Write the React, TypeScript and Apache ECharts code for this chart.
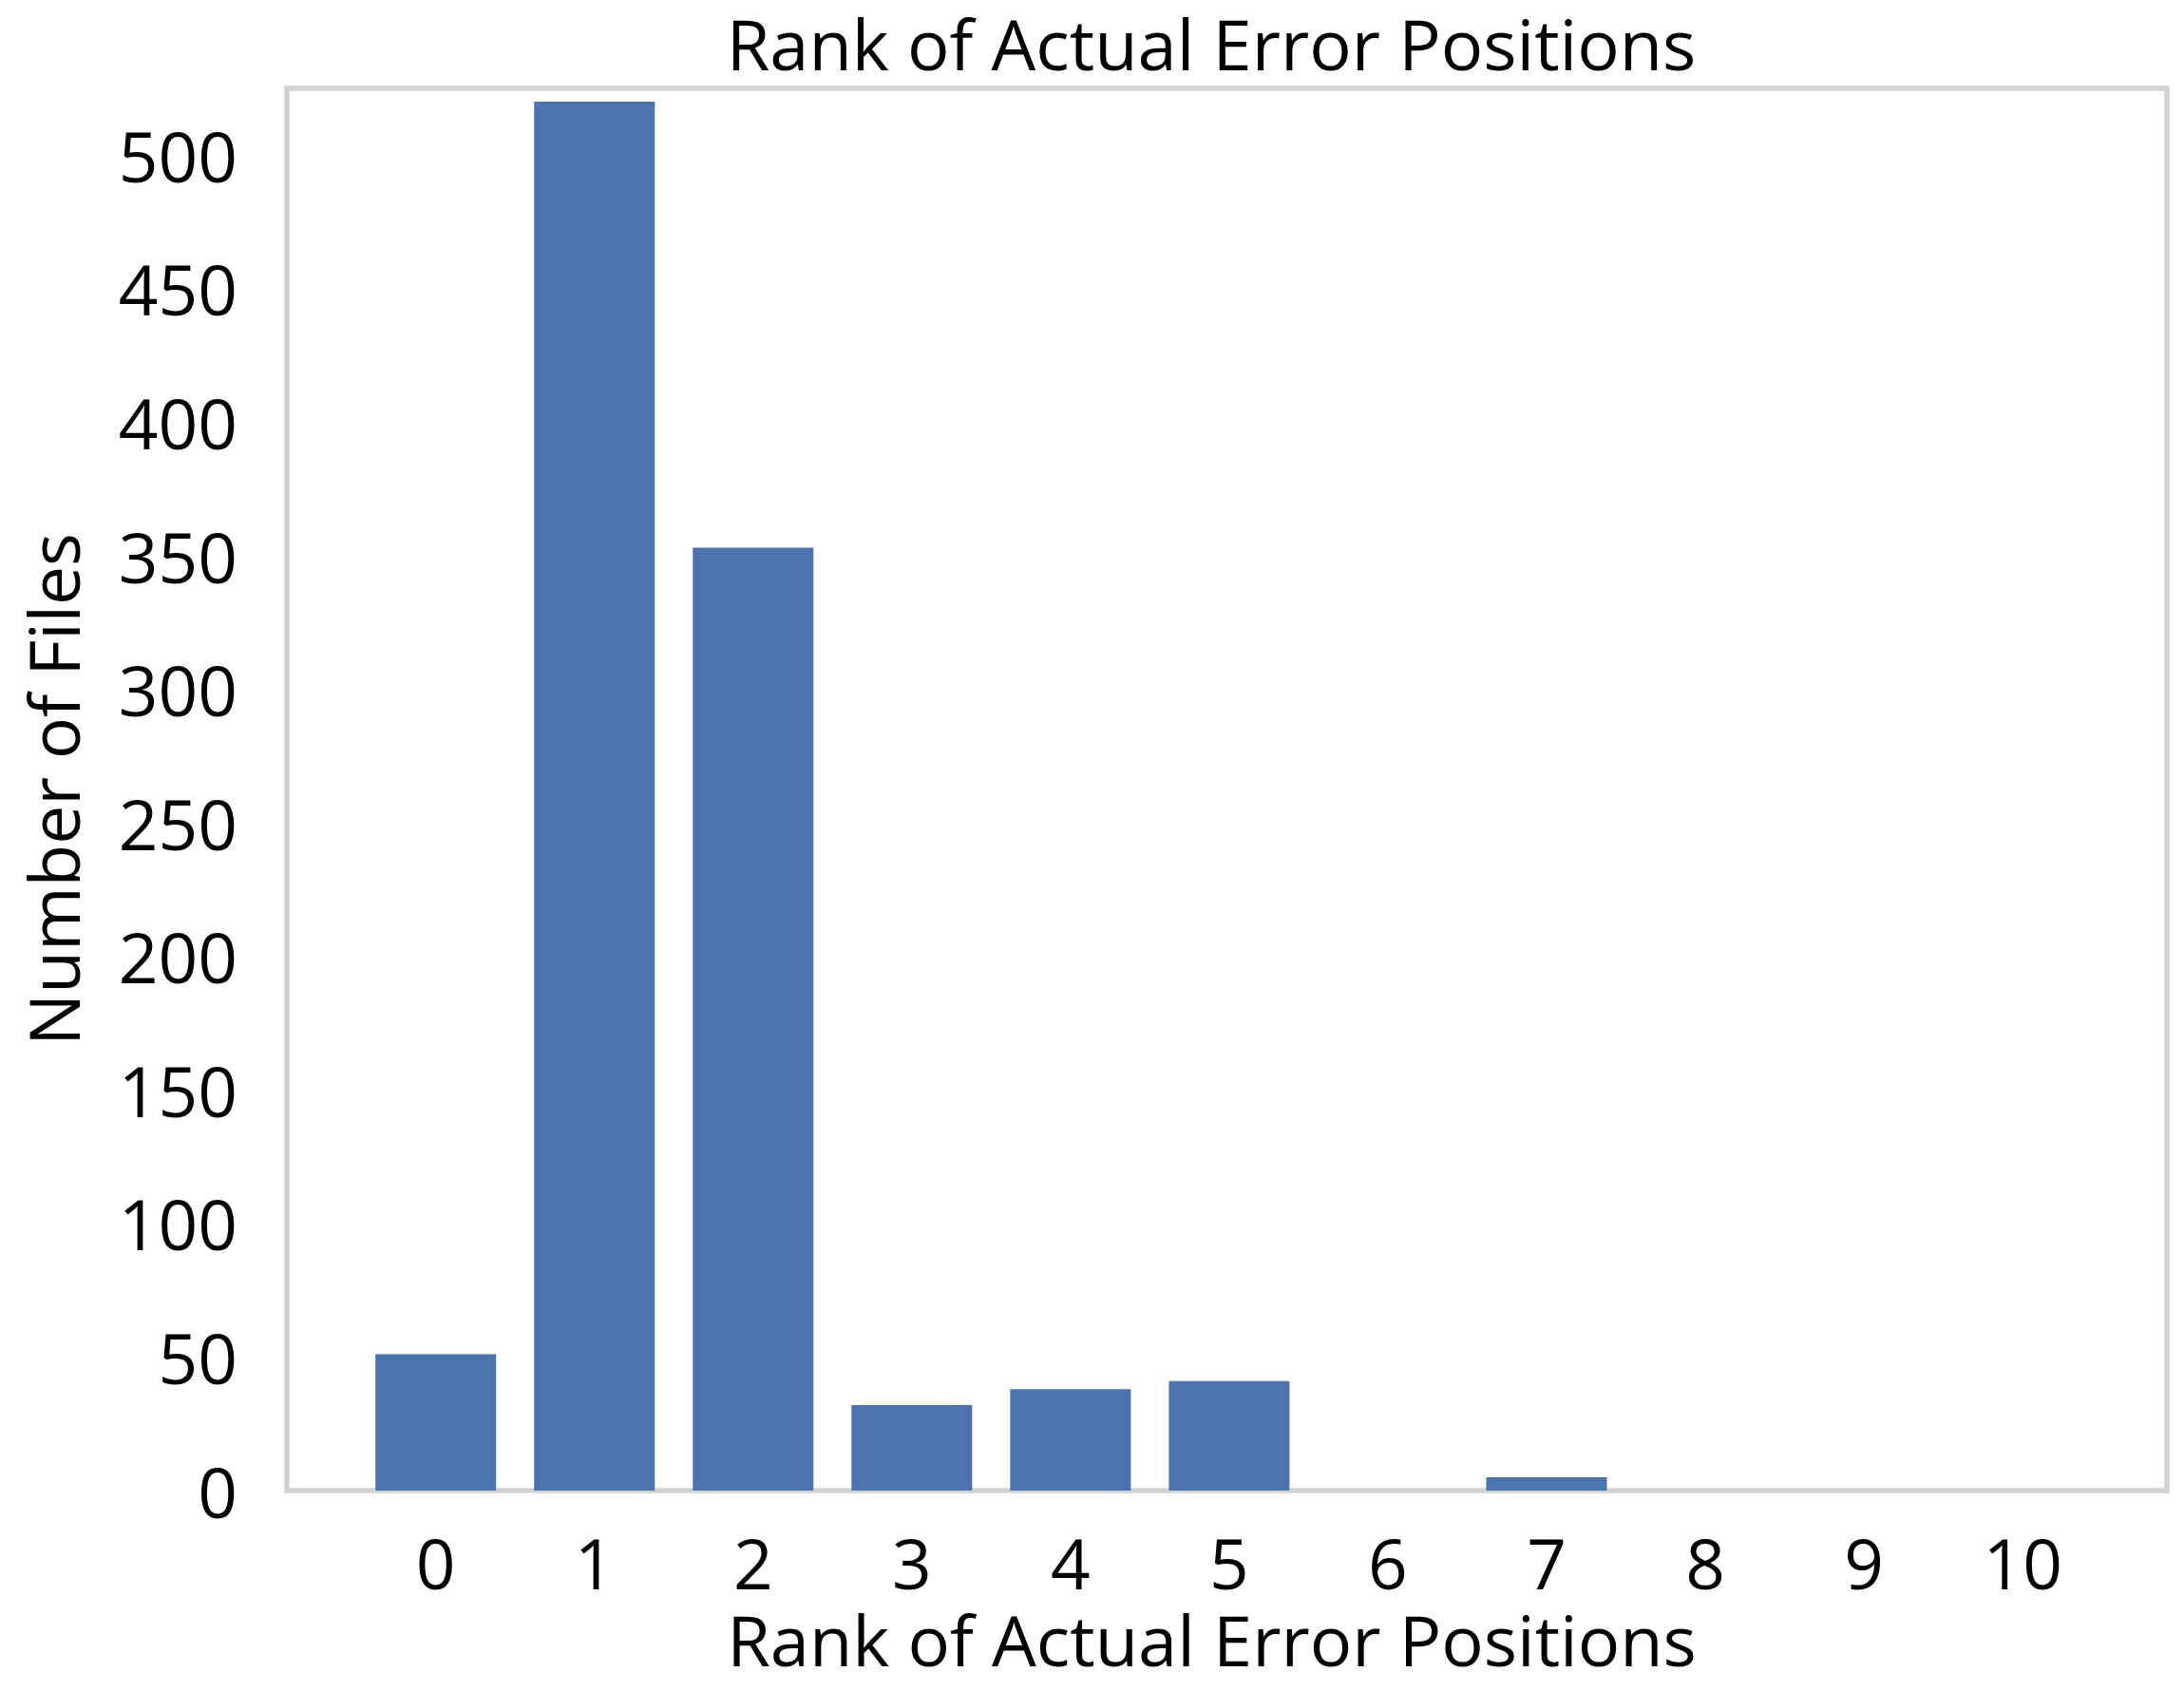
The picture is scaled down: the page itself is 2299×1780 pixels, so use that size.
import React, { useEffect, useRef } from "react";
import * as echarts from "echarts";

const categories: number[] = [0, 1, 2, 3, 4, 5, 6, 7, 8, 9, 10];
const fileCounts: number[] = [51, 520, 353, 32, 38, 41, 0, 5, 0, 0, 0];
const yTicks: number[] = [0, 50, 100, 150, 200, 250, 300, 350, 400, 450, 500];

const titleText = "Rank of Actual Error Positions";
const xName = "Rank of Actual Error Positions";
const yName = "Number of Files";

const FONT = "Open Sans";
const BAR_COLOR = "#4C72B0";
const FRAME_COLOR = "#D3D3D3";

export default function App() {
  const ref = useRef<HTMLDivElement>(null);

  useEffect(() => {
    document.body.style.margin = "0";
    if (!ref.current) return;
    const chart = echarts.init(ref.current, null, { renderer: "svg" });
    chart.setOption({
      animation: false,
      backgroundColor: "#ffffff",
      textStyle: { fontFamily: FONT },
      graphic: [
        {
          type: "text",
          x: 1275,
          y: 45,
          style: {
            text: titleText,
            fontFamily: FONT,
            fontSize: 74,
            fill: "#000000",
            textAlign: "center",
            textVerticalAlign: "middle",
          },
        },
      ],
      grid: {
        left: 302,
        top: 93,
        right: 18,
        bottom: 211,
        show: true,
        borderColor: FRAME_COLOR,
        borderWidth: 5.5,
        backgroundColor: "transparent",
        containLabel: false,
      },
      xAxis: {
        type: "value",
        min: -0.938,
        max: 10.909,
        splitNumber: 11,
        minInterval: 1,
        name: xName,
        nameLocation: "middle",
        nameGap: 119,
        nameMoveOverlap: false,
        nameTextStyle: {
          fontFamily: FONT,
          fontSize: 74,
          color: "#000000",
          padding: [0, 32, 0, 0],
        },
        axisLine: { show: false },
        axisTick: { show: false },
        splitLine: { show: false },
        axisLabel: {
          show: true,
          margin: 39,
          fontFamily: FONT,
          fontSize: 73,
          color: "#000000",
          formatter: (v: number) => {
            const r = Math.round(v);
            if (Math.abs(v - r) < 1e-6 && categories.indexOf(r) >= 0) return String(r);
            return "";
          },
        },
      },
      yAxis: {
        type: "value",
        min: 0,
        max: 525,
        interval: 50,
        name: yName,
        nameLocation: "middle",
        nameRotate: 90,
        nameGap: 210,
        nameMoveOverlap: false,
        nameTextStyle: {
          fontFamily: FONT,
          fontSize: 73,
          color: "#000000",
        },
        axisLine: { show: false },
        axisTick: { show: false },
        splitLine: { show: false },
        axisLabel: {
          show: true,
          margin: 52,
          fontFamily: FONT,
          fontSize: 73,
          color: "#000000",
          padding: [0, 0, 8, 0],
          formatter: (v: number) => (yTicks.indexOf(v) >= 0 ? String(v) : ""),
        },
      },
      series: [
        {
          type: "bar",
          data: categories.map((c, i) => [c, fileCounts[i]]),
          barWidth: 127,
          itemStyle: { color: BAR_COLOR },
        },
      ],
    });
    return () => chart.dispose();
  }, []);

  return <div ref={ref} style={{ width: 2299, height: 1780 }} />;
}
